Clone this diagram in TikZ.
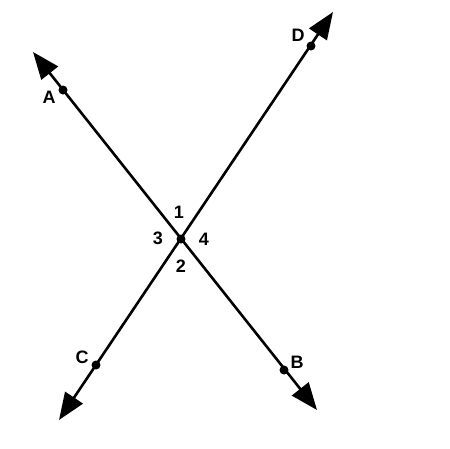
\documentclass[tikz,border=0pt]{standalone}
\usepackage{fontspec}
\setmainfont{Liberation Sans}
\usetikzlibrary{arrows.meta}
\tikzset{
    ray/.style={line width=2.6pt, {Triangle[length=27pt,width=21pt]}-{Triangle[length=27pt,width=21pt]}},
    pt/.style={circle, fill=black, inner sep=0pt, minimum size=9pt},
    lbl/.style={font=\fontsize{18}{18}\selectfont\bfseries, inner sep=0pt}
}
\begin{document}
\begin{tikzpicture}[x=1pt, y=-1pt]
    \useasboundingbox (0,0) rectangle (450,448);

    % Ends of the lines
    \coordinate (tipA) at (33,52);
    \coordinate (tipB) at (317,410);
    \coordinate (tipC) at (59,420);
    \coordinate (tipD) at (333,12);

    % Lines
    \draw[ray] (tipA) -- (tipB);
    \draw[ray] (tipC) -- (tipD);

    % Points
    \node[pt] (O) at (181,239) {};
    \node[pt] (A) at (63,90) {};
    \node[pt] (B) at (284,370) {};
    \node[pt] (C) at (96,365) {};
    \node[pt] (D) at (311,46) {};

    % Labels of the points
    \node[lbl] (labA) at (49,97) {A};
    \node[lbl] (labB) at (297,362) {B};
    \node[lbl] (labC) at (82,357) {C};
    \node[lbl] (labD) at (298,35) {D};

    % Angles
    \node[lbl] (ang1) at (179,212) {1};
    \node[lbl] (ang2) at (181,266) {2};
    \node[lbl] (ang3) at (158,238) {3};
    \node[lbl] (ang4) at (204,239) {4};
\end{tikzpicture}
\end{document}
